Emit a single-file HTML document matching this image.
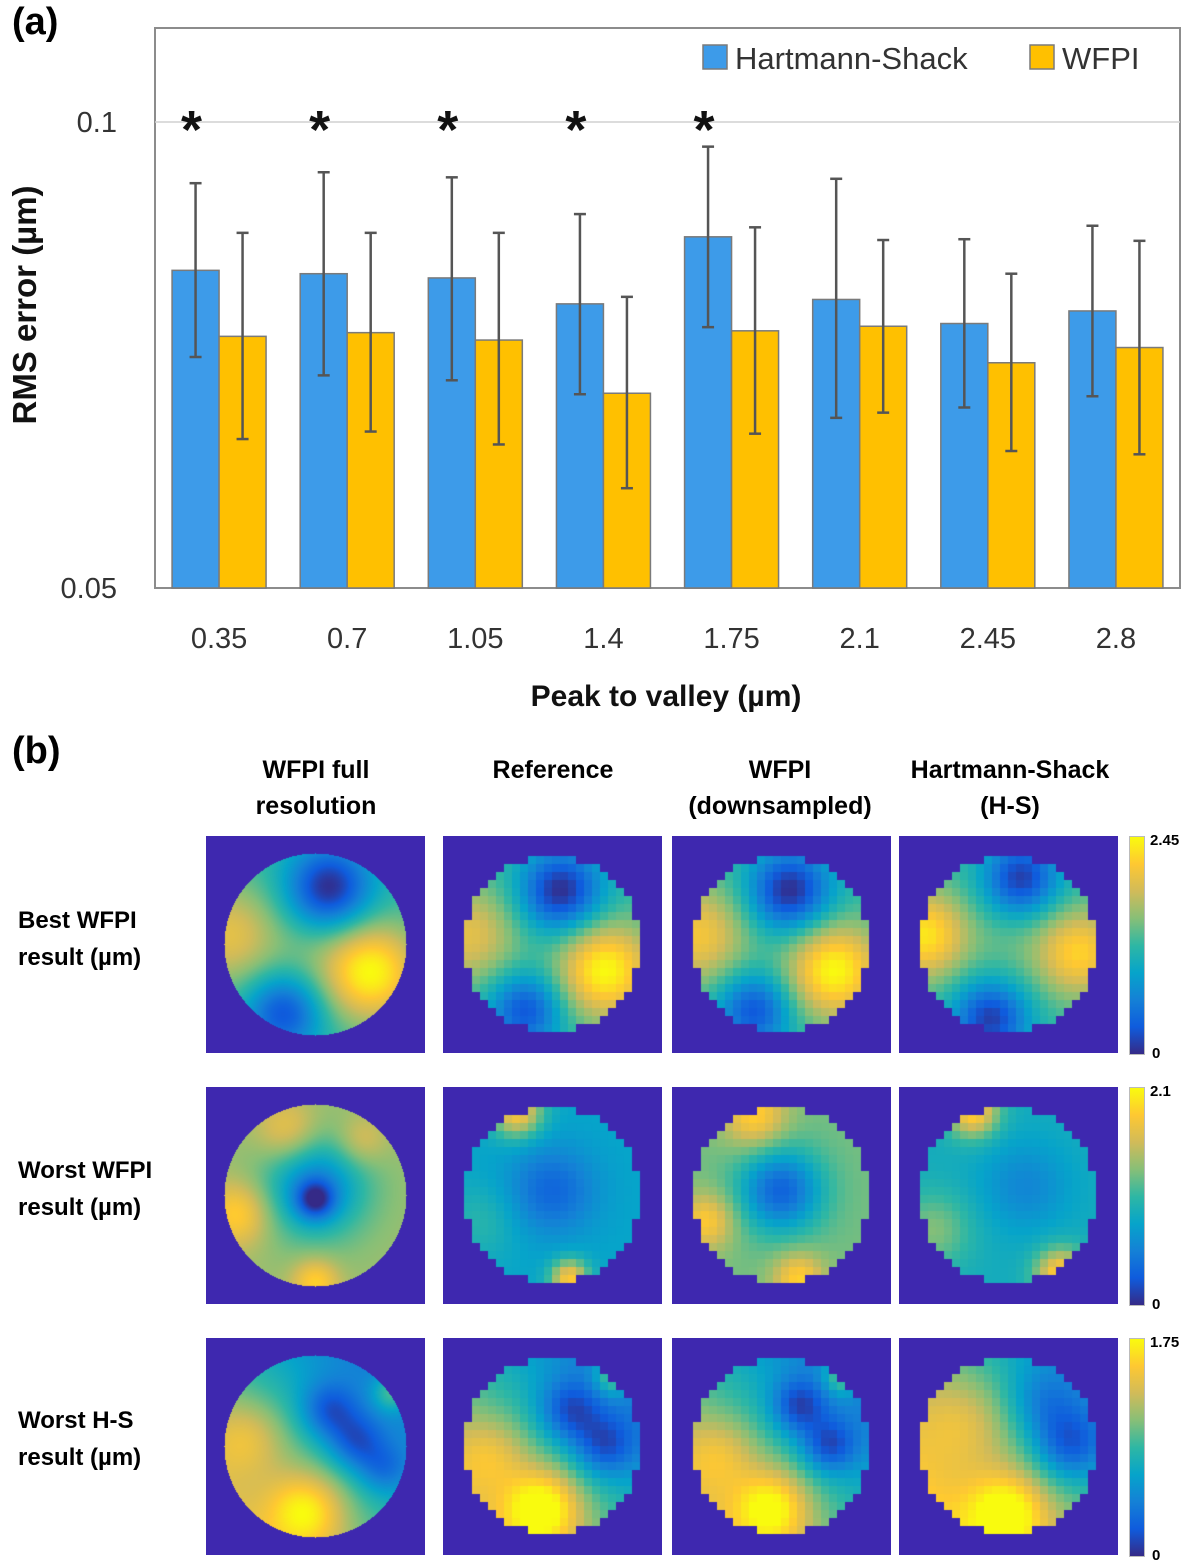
<!DOCTYPE html>
<html><head><meta charset="utf-8"><style>
body{margin:0;background:#fff;width:1200px;height:1568px;position:relative;overflow:hidden;font-family:"Liberation Sans",sans-serif}
.t{position:absolute;white-space:nowrap}
.b{font-weight:bold}
canvas{position:absolute}
</style></head><body>
<div class="t b" style="left:12px;top:1px;font-size:38px">(a)</div>
<svg id="chart" width="1200" height="720" style="position:absolute;left:0;top:0" font-family="Liberation Sans, sans-serif"></svg>
<div class="t b" style="left:12px;top:730px;font-size:38px">(b)</div>
<div class="t b" style="left:206px;width:220px;text-align:center;top:752px;font-size:25px;line-height:36px">WFPI full<br>resolution</div>
<div class="t b" style="left:443px;width:220px;text-align:center;top:752px;font-size:25px;line-height:36px">Reference</div>
<div class="t b" style="left:665px;width:230px;text-align:center;top:752px;font-size:25px;line-height:36px">WFPI<br>(downsampled)</div>
<div class="t b" style="left:885px;width:250px;text-align:center;top:752px;font-size:25px;line-height:36px">Hartmann-Shack<br>(H-S)</div>
<div class="t b" style="left:18px;top:902px;font-size:24px;line-height:37px">Best WFPI<br>result (µm)</div>
<div class="t b" style="left:18px;top:1152px;font-size:24px;line-height:37px">Worst WFPI<br>result (µm)</div>
<div class="t b" style="left:18px;top:1402px;font-size:24px;line-height:37px">Worst H-S<br>result (µm)</div>
<div id="maps"></div>
<script>
// ---- Chart data ----
const categories=["0.35","0.7","1.05","1.4","1.75","2.1","2.45","2.8"];
const hsValues=[0.0802,0.0798,0.0793,0.0763,0.0843,0.0768,0.0741,0.0755];
const wfpiValues=[0.0727,0.0731,0.0723,0.0668,0.0733,0.0738,0.0699,0.0715];
const hsUpper=[0.0913,0.0928,0.0921,0.0872,0.0964,0.0919,0.0840,0.0857];
const hsLower=[0.0705,0.0686,0.0681,0.0667,0.0737,0.0644,0.0654,0.0665];
const wfpiUpper=[0.0848,0.0848,0.0848,0.0771,0.0855,0.0839,0.0798,0.0838];
const wfpiLower=[0.0624,0.0631,0.0619,0.0580,0.0629,0.0649,0.0613,0.0610];
const significant=[true,true,true,true,true,false,false,false];
const yTicks=[0.05,0.1];
const yTickLabels=["0.05","0.1"];

const NS="http://www.w3.org/2000/svg";
const svg=document.getElementById('chart');
const X0=155,X1=1180,Y0=28,YB=588;
function yScale(v){return YB-Math.log2(v/0.05)*466;}
const gw=(X1-X0)/categories.length;
function xCenter(i){return X0+gw*(i+0.5);}
function mk(tag,attrs,parent){const e=document.createElementNS(NS,tag);for(const k in attrs)e.setAttribute(k,attrs[k]);(parent||svg).appendChild(e);return e;}

let e=mk('rect',{x:X0,y:Y0,width:X1-X0,height:YB-Y0,fill:'none',stroke:'#8c8c8c','stroke-width':2});


yTicks.forEach((t,i)=>{
  if(i>0){const g=mk('line',{x1:X0,x2:X1,y1:yScale(t),y2:yScale(t),stroke:'#d0d0d0','stroke-width':1.5});
  
  }
  const l=mk('text',{x:117,y:yScale(t)+10,'text-anchor':'end','font-size':29,fill:'#333'});
  l.textContent=yTickLabels[i];
  
  
});
const bw=47;
function bar(i,v,up,lo,col,off,name){
  const cx=xCenter(i)+off;
  const r=mk('rect',{x:cx-bw/2,y:yScale(v),width:bw,height:YB-yScale(v),fill:col,stroke:'#7a7a7a','stroke-width':1.5});
  
  
  const g=mk('g',{stroke:'#555','stroke-width':2.5});
  
  
  mk('line',{x1:cx,x2:cx,y1:yScale(up),y2:yScale(lo)},g);
  mk('line',{x1:cx-6,x2:cx+6,y1:yScale(up),y2:yScale(up)},g);
  mk('line',{x1:cx-6,x2:cx+6,y1:yScale(lo),y2:yScale(lo)},g);
}
categories.forEach((c,i)=>{
  bar(i,hsValues[i],hsUpper[i],hsLower[i],'#3d9be9',-bw/2,'bar-hs-'+c);
  bar(i,wfpiValues[i],wfpiUpper[i],wfpiLower[i],'#ffc000',bw/2,'bar-wfpi-'+c);
  const l=mk('text',{x:xCenter(i),y:648,'text-anchor':'middle','font-size':29,fill:'#333'});
  l.textContent=c;
  
  
  if(significant[i]){const s=mk('text',{x:xCenter(i)-bw/2-4,y:yScale(0.1)+26,'text-anchor':'middle','font-size':54,'font-weight':'bold',fill:'#111'});
  s.textContent='*';
  
  }
});
e=mk('text',{x:666,y:706,'text-anchor':'middle','font-size':30,'font-weight':'bold',fill:'#111'});e.textContent='Peak to valley (µm)';


e=mk('text',{x:0,y:0,transform:'translate(36,305) rotate(-90)','text-anchor':'middle','font-size':33,'font-weight':'bold',fill:'#111'});e.textContent='RMS error (µm)';


[[703,'#3d9be9','Hartmann-Shack','legend-entry-hs'],[1030,'#ffc000','WFPI','legend-entry-wfpi']].forEach(a=>{
  const g=mk('g',{});
  
  
  mk('rect',{x:a[0],y:45,width:24,height:24,fill:a[1],stroke:'#7a7a7a','stroke-width':1.5},g);
  const t=mk('text',{x:a[0]+32,y:69,'font-size':31,fill:'#333'},g);t.textContent=a[2];
});

// ---- Heatmaps ----
const parula=[[53,42,135],[15,92,221],[20,129,214],[6,164,202],[46,183,164],[135,191,119],[209,187,89],[254,200,50],[249,251,14]];
function cmap(v){v=Math.max(0,Math.min(1,v))*8;const i=Math.min(7,Math.floor(v)),f=v-i;const a=parula[i],b=parula[i+1];return [a[0]+(b[0]-a[0])*f,a[1]+(b[1]-a[1])*f,a[2]+(b[2]-a[2])*f];}
const BG=[62,40,175];
const fields=[
 [0.5,[[0.15,-0.62,-0.5,0.33],[-0.35,0.75,-0.4,0.3],[0.6,0.3,0.5,0.38],[-0.95,-0.1,0.3,0.4],[-0.1,0.05,0.05,0.3]]],
 [0.5,[[0.1,-0.6,-0.5,0.33],[-0.3,0.75,-0.4,0.3],[0.6,0.3,0.5,0.38],[-0.95,-0.1,0.3,0.4]]],
 [0.5,[[0.1,-0.6,-0.5,0.33],[-0.3,0.75,-0.4,0.3],[0.6,0.3,0.5,0.38],[-0.95,-0.1,0.35,0.4]]],
 [0.5,[[0.15,-0.75,-0.45,0.3],[-0.2,0.85,-0.45,0.3],[0.8,0.1,0.4,0.35],[-0.95,-0.1,0.45,0.35],[0,0,0.05,0.3]]],
 [0.66,[[0,-0.1,-0.4,0.4],[0,0.05,-0.35,0.15],[-0.85,0.2,0.25,0.25],[-0.3,-0.7,0.2,0.25],[0.5,-0.6,0.15,0.2],[0,0.95,0.25,0.18]]],
 [0.38,[[0,-0.05,-0.22,0.35],[-0.4,-0.95,0.5,0.2],[0.2,0.95,0.5,0.15],[-0.8,0.3,0.1,0.3]]],
 [0.6,[[0,-0.05,-0.45,0.33],[-0.3,-0.9,0.3,0.25],[-0.85,0.3,0.28,0.22],[0.2,0.95,0.3,0.2]]],
 [0.42,[[0.2,-0.1,-0.15,0.35],[-0.4,-0.95,0.5,0.2],[0.6,0.9,0.5,0.2],[-0.85,0.4,0.2,0.3]]],
];
const diag=[
 [0.5,[[0.15,-0.4,-0.28,0.22],[0.45,-0.05,-0.28,0.22],[0.75,0.25,-0.2,0.2],[-0.1,0.7,0.35,0.3],[-0.75,-0.1,0.2,0.3],[0.85,-0.6,0.3,0.15]]],
 [0.5,[[0.2,-0.4,-0.3,0.25],[0.6,0.0,-0.3,0.25],[-0.1,0.7,0.45,0.3],[-0.7,0.1,0.2,0.3],[0.7,-0.8,0.35,0.15]]],
 [0.5,[[0.2,-0.45,-0.32,0.22],[0.55,0.0,-0.32,0.22],[-0.1,0.7,0.4,0.3],[-0.7,0.1,0.2,0.3],[0.7,-0.8,0.35,0.15]]],
 [0.62,[[0.7,0.0,-0.35,0.3],[0.4,-0.5,-0.2,0.3],[0.0,0.75,0.35,0.3],[-0.5,-0.3,0.15,0.35]]],
];
function val(f,x,y,row){let v=f[0];if(row===2){v-=0.18*(x-y);}f[1].forEach(b=>{const d=(x-b[0])**2+(y-b[1])**2;v+=b[2]*Math.exp(-d/(2*b[3]*b[3]));});return v;}
const colsX=[206,443,672,899],rowsY=[836,1087,1338],W=219,H=217;
const rowFields=[[fields[0],fields[1],fields[2],fields[3]],[fields[4],fields[5],fields[6],fields[7]],diag];
const rowNames=['best-wfpi','worst-wfpi','worst-hs'];const colNames=['full-res','reference','wfpi-downsampled','hartmann-shack'];
const maps=document.getElementById('maps');
for(let r=0;r<3;r++)for(let c=0;c<4;c++){
  const cv=document.createElement('canvas');cv.width=W;cv.height=H;
  cv.style.left=colsX[c]+'px';cv.style.top=rowsY[r]+'px';
  
  
  maps.appendChild(cv);
  const ctx=cv.getContext('2d');const img=ctx.createImageData(W,H);
  const cx=W/2,cy=H/2,R=c===0?91:88,N=22,cell=2*R/N;
  for(let py=0;py<H;py++)for(let px=0;px<W;px++){
    let sx=px+0.5,sy=py+0.5;
    if(c>0){sx=cx-R+(Math.floor((sx-(cx-R))/cell)+0.5)*cell;sy=cy-R+(Math.floor((sy-(cy-R))/cell)+0.5)*cell;}
    const x=(sx-cx)/R,y=(sy-cy)/R;let col=BG;
    if(x*x+y*y<=1)col=cmap(val(rowFields[r][c],x,y,r));
    const k=(py*W+px)*4;img.data[k]=col[0];img.data[k+1]=col[1];img.data[k+2]=col[2];img.data[k+3]=255;
  }
  ctx.putImageData(img,0,0);
}
const cbMax=["2.45","2.1","1.75"];
for(let r=0;r<3;r++){
  const d=document.createElement('div');
  
  
  d.style.cssText='position:absolute;left:1129px;top:'+rowsY[r]+'px;width:14px;height:'+H+'px;border:1px solid #bbb;background:linear-gradient(to top,'+parula.map(p=>'rgb('+p.join(',')+')').join(',')+')';
  maps.appendChild(d);
  const t1=document.createElement('div');t1.className='t b';t1.textContent=cbMax[r];
  
  
  t1.style.cssText+='left:1150px;top:'+(rowsY[r]-4)+'px;font-size:15px';maps.appendChild(t1);
  const t0=document.createElement('div');t0.className='t b';t0.textContent='0';
  
  
  t0.style.cssText+='left:1152px;top:'+(rowsY[r]+H-8)+'px;font-size:15px';maps.appendChild(t0);
}
</script>
</body></html>
